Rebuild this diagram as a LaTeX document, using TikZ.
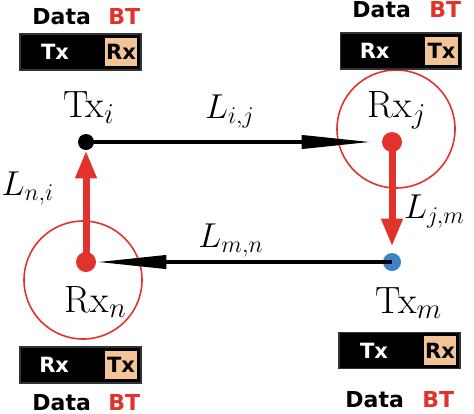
\documentclass[tikz,border=0pt]{standalone}
\usepackage{amsmath}
\usepackage{fontspec}
\newfontfamily\tagfont{DejaVu Sans}
\usetikzlibrary{arrows.meta}
\usetikzlibrary{positioning}
\definecolor{btred}{RGB}{226,50,44}
\definecolor{bttan}{RGB}{243,197,150}
\definecolor{txblue}{RGB}{60,130,200}

\begin{document}
\begin{tikzpicture}[x=0.5pt,y=-0.5pt,
  dot/.style={circle,inner sep=0pt,minimum size=#1},
  link/.style={line width=2pt,-{Triangle[length=35pt,width=6.5pt]}},
  btlink/.style={btred,line width=3.5pt,-{Triangle[length=14pt,width=10pt]}},
  zone/.style={circle,draw=btred,line width=0.8pt,minimum size=59pt,inner sep=0pt},
  nodename/.style={anchor=base,font=\fontsize{19}{22}\selectfont},
  linkname/.style={anchor=base,font=\fontsize{17}{20}\selectfont},
  slot/.style={fill=black,draw=black!80,line width=0.6pt,minimum width=60.5pt,minimum height=18pt,inner sep=0pt},
  btslot/.style={fill=bttan,draw=black,line width=0.6pt,minimum width=17pt,minimum height=15pt,inner sep=0pt,font=\tagfont\bfseries\fontsize{10.5}{12}\selectfont},
  slottext/.style={text=white,inner sep=0pt,font=\tagfont\bfseries\fontsize{10.5}{12}\selectfont},
  tag/.style={anchor=base west,inner sep=0pt,font=\tagfont\bfseries\fontsize{11}{13}\selectfont}
]
\useasboundingbox (0,0) rectangle (474,413);

% coverage
\node[zone] (zonej) at (396,129) {};
\node[zone] (zonen) at (83,280) {};

% terminals
\node[dot=8pt,fill=black] (txi) at (86,142) {};
\node[dot=10pt,fill=btred] (rxj) at (392,142) {};
\node[dot=9pt,fill=txblue] (txm) at (392,262) {};
\node[dot=10pt,fill=btred] (rxn) at (86,262) {};

% links
\draw[link,shorten >=5pt] (txi.center) -- (rxj);
\draw[link] (txm.center) -- (rxn);
\draw[btlink,shorten >=3pt] (rxj.center) -- (txm);
\draw[btlink] (rxn.center) -- (txi);

\node[nodename] (ti) at (89,117) {Tx$_i$};
\node[nodename] (rj) at (397,117) {Rx$_j$};
\node[nodename] (tm) at (409,313) {Tx$_m$};
\node[nodename] (rn) at (96,312) {Rx$_n$};

\node[linkname] (lij) at (230,118) {$L_{i,j}$};
\node[linkname] (lmn) at (231,247) {$L_{m,n}$};
\node[linkname] (lni) at (28,195) {$L_{n,i}$};
\node[linkname,anchor=base east] (ljm) at (472,218) {$L_{j,m}$};

% slots
\node[slot] (si) at (80.5,52) {};
\node[btslot,anchor=east] (si bt) at ([xshift=-1.5pt]si.east) {Rx};
\node[slottext,left=17pt of si bt] (si data) {Tx};
\node[tag] (di) at (32,24) {Data};
\node[tag,text=btred] (bi) at (108,24) {BT};

\node[slot] (sj) at (401,51) {};
\node[btslot,anchor=east] (sj bt) at ([xshift=-1.5pt]sj.east) {Tx};
\node[slottext,left=17pt of sj bt] (sj data) {Rx};
\node[tag] (dj) at (352,17) {Data};
\node[tag,text=btred] (bj) at (429,17) {BT};

\node[slot] (sm) at (399.5,350.5) {};
\node[btslot,anchor=east] (sm bt) at ([xshift=-1.5pt]sm.east) {Rx};
\node[slottext,left=17pt of sm bt] (sm data) {Tx};
\node[tag] (dm) at (345,407) {Data};
\node[tag,text=btred] (bm) at (422,407) {BT};

\node[slot] (sn) at (80.5,365) {};
\node[btslot,anchor=east] (sn bt) at ([xshift=-1.5pt]sn.east) {Tx};
\node[slottext,left=17pt of sn bt] (sn data) {Rx};
\node[tag] (dn) at (32,410) {Data};
\node[tag,text=btred] (bn) at (108,410) {BT};
\end{tikzpicture}
\end{document}
